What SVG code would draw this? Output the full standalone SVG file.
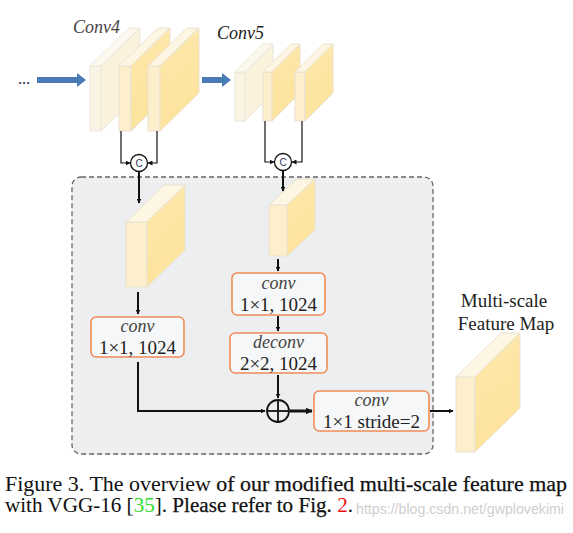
<svg xmlns="http://www.w3.org/2000/svg" width="573" height="533" viewBox="0 0 573 533">
<defs>
<linearGradient id="sideG" x1="0" y1="0" x2="0.3" y2="1">
<stop offset="0" stop-color="#fdf3dc"/>
<stop offset="0.35" stop-color="#fde6a6"/>
<stop offset="1" stop-color="#fde39c"/>
</linearGradient>
<marker id="ah" viewBox="0 0 10 10" refX="9" refY="5" markerWidth="5" markerHeight="5" orient="auto" markerUnits="userSpaceOnUse">
<path d="M0,0 L10,5 L0,10 z" fill="#111"/>
</marker>
<marker id="ahb" viewBox="0 0 10 10" refX="9" refY="5" markerWidth="7" markerHeight="7" orient="auto" markerUnits="userSpaceOnUse">
<path d="M0,0 L10,5 L0,10 z" fill="#111"/>
</marker>
<style>
.fr{fill:#fdefcc;stroke:#e9e2d0;stroke-width:1}
.tp{fill:#fdf6e2;stroke:#e9e2d0;stroke-width:1}
.sd{fill:url(#sideG);stroke:#e9e2d0;stroke-width:1}
.pfr{fill:#faf4e5;stroke:#ebe6da;stroke-width:1}
.ptp{fill:#fcf8ee;stroke:#ebe6da;stroke-width:1}
.psd{fill:#fbf2dd;stroke:#ebe6da;stroke-width:1}
.box{fill:#f6f7f8;stroke:#f08c58;stroke-width:1.6}
.it{font-family:"Liberation Serif","Times New Roman",serif;font-style:italic;font-size:18px;fill:#444;text-anchor:middle}
.nm{font-family:"Liberation Serif","Times New Roman",serif;font-size:19px;fill:#222;text-anchor:middle}
.ln{fill:none;stroke:#111;stroke-width:1.2}
.lnb{fill:none;stroke:#111;stroke-width:2}
.cap{font-family:"Liberation Serif","Times New Roman",serif;font-size:20.5px;fill:#111}
.cc{fill:#fff;stroke:#111;stroke-width:1.3}
.ct{font-family:"Liberation Sans",sans-serif;font-size:10px;fill:#335;text-anchor:middle}
</style>
</defs>

<!-- dashed region -->
<rect x="72" y="177" width="361" height="277" rx="9" fill="#eceef0" stroke="#666" stroke-width="1.3" stroke-dasharray="5,3"/>

<g id="input">
<text x="24" y="84" font-family="Liberation Serif,serif" font-size="16" fill="#223" text-anchor="middle">...</text>
<path d="M37,77 L77,77 L77,73 L86,80 L77,87 L77,83 L37,83 z" fill="#4b7bb5"/>
</g>

<g id="conv4">
<text x="73" y="33" font-family="Liberation Serif,serif" font-style="italic" font-size="18" fill="#4a4448">Conv4</text>
<rect class="pfr" x="90" y="66" width="11" height="65"/>
<polygon class="ptp" points="90,66 101,66 140,28 129,28"/>
<polygon class="psd" points="101,66 140,28 140,93 101,131"/>
<rect class="fr" x="119" y="66" width="12" height="65"/>
<polygon class="tp" points="119,66 131,66 170,28 158,28"/>
<polygon class="sd" points="131,66 170,28 170,93 131,131"/>
<rect class="fr" x="148" y="66" width="12" height="65"/>
<polygon class="tp" points="148,66 160,66 199,28 187,28"/>
<polygon class="sd" points="160,66 199,28 199,93 160,131"/>
</g>

<g id="arrow-blue-2">
<path d="M202,77 L222,77 L222,73 L231,80 L222,87 L222,83 L202,83 z" fill="#4b7bb5"/>
</g>

<g id="conv5">
<text x="217" y="39" font-family="Liberation Serif,serif" font-style="italic" font-size="18" fill="#1e1e1e">Conv5</text>
<rect class="pfr" x="235" y="72" width="10" height="49"/>
<polygon class="ptp" points="235,72 245,72 273,44 263,44"/>
<polygon class="psd" points="245,72 273,44 273,93 245,121"/>
<rect class="fr" x="263" y="72" width="9" height="49"/>
<polygon class="tp" points="263,72 272,72 300,44 291,44"/>
<polygon class="sd" points="272,72 300,44 300,93 272,121"/>
<rect class="fr" x="295" y="72" width="10" height="49"/>
<polygon class="tp" points="295,72 305,72 333,44 323,44"/>
<polygon class="sd" points="305,72 333,44 333,93 305,121"/>
</g>

<g id="concat4">
<circle class="cc" cx="139" cy="163" r="8.5"/>
<text class="ct" x="139" y="166.5">C</text>
</g>
<g id="concat5">
<circle class="cc" cx="283" cy="162" r="8.5"/>
<text class="ct" x="283" y="165.5">C</text>
</g>

<g id="feat4">
<rect class="fr" x="126" y="222" width="21" height="65"/>
<polygon class="tp" points="126,222 147,222 185,185 164,185"/>
<polygon class="sd" points="147,222 185,185 185,250 147,287"/>
</g>
<g id="feat5">
<rect class="fr" x="269" y="205" width="18" height="51"/>
<polygon class="tp" points="269,205 287,205 315,179 297,179"/>
<polygon class="sd" points="287,205 315,179 315,230 287,256"/>
</g>

<g id="conv-left">
<rect class="box" x="91" y="317" width="93" height="40" rx="5"/>
<text class="it" x="137.5" y="332">conv</text>
<text class="nm" x="137.5" y="354">1×1, 1024</text>
</g>
<g id="conv-right">
<rect class="box" x="232" y="273" width="93" height="42" rx="5"/>
<text class="it" x="278.5" y="289">conv</text>
<text class="nm" x="278.5" y="311">1×1, 1024</text>
</g>
<g id="deconv">
<rect class="box" x="230" y="333" width="97" height="40" rx="5"/>
<text class="it" x="278.5" y="348">deconv</text>
<text class="nm" x="278.5" y="370">2×2, 1024</text>
</g>
<g id="sum">
<circle cx="278" cy="411" r="11" fill="none" stroke="#111" stroke-width="1.8"/>
<line x1="267" y1="411" x2="289" y2="411" stroke="#111" stroke-width="1.8"/>
<line x1="278" y1="400" x2="278" y2="422" stroke="#111" stroke-width="1.8"/>
</g>
<g id="conv-stride">
<rect class="box" x="314" y="391" width="115" height="40" rx="5"/>
<text class="it" x="371.5" y="406">conv</text>
<text class="nm" x="371.5" y="428">1×1 stride=2</text>
</g>

<g id="output">
<text class="nm" x="504" y="307" fill="#1a1a1a">Multi-scale</text>
<text class="nm" x="506" y="330" fill="#1a1a1a">Feature Map</text>
<rect class="fr" x="456" y="377" width="19" height="75"/>
<polygon class="tp" points="456,377 475,377 520,333 501,333"/>
<polygon class="sd" points="475,377 520,333 520,408 475,452"/>
</g>

<g id="connectors">
<path class="ln" d="M121,131 V163 H130" marker-end="url(#ah)"/>
<path class="ln" d="M157,131 V163 H148" marker-end="url(#ah)"/>
<path class="ln" d="M265,121 V162 H274" marker-end="url(#ah)"/>
<path class="ln" d="M302,121 V162 H292" marker-end="url(#ah)"/>
<path class="lnb" d="M139,172 V203" marker-end="url(#ah)"/>
<path class="lnb" d="M283,171 V191" marker-end="url(#ah)"/>
<path class="lnb" d="M138,292 V314" marker-end="url(#ah)"/>
<path class="lnb" d="M278,259 V271" marker-end="url(#ah)"/>
<path class="lnb" d="M278,316 V331" marker-end="url(#ah)"/>
<path class="lnb" d="M278,375 V398" marker-end="url(#ah)"/>
<path class="lnb" d="M138,362 V411 H265" marker-end="url(#ah)"/>
<path d="M290,411 H312" fill="none" stroke="#111" stroke-width="3" marker-end="url(#ahb)"/>
<path class="lnb" d="M430,411 H453" marker-end="url(#ah)"/>
</g>

<g id="caption">
<text class="cap" x="5" y="491" textLength="562" lengthAdjust="spacingAndGlyphs">Figure 3. The overview <tspan stroke="#111" stroke-width="0.25">of our modified multi-scale feature map</tspan></text>
<text class="cap" x="5" y="512" textLength="348" lengthAdjust="spacingAndGlyphs">with VGG-16 [<tspan fill="#33dd33">35</tspan>]. <tspan stroke="#111" stroke-width="0.25">Please refer to Fig.</tspan> <tspan fill="#ee1111">2</tspan>.</text>
<text x="356" y="514" font-family="Liberation Sans,sans-serif" font-size="14.5" fill="#c4c4c4" fill-opacity="0.85" textLength="208" lengthAdjust="spacingAndGlyphs">https://blog.csdn.net/gwplovekimi</text>
</g>
</svg>
